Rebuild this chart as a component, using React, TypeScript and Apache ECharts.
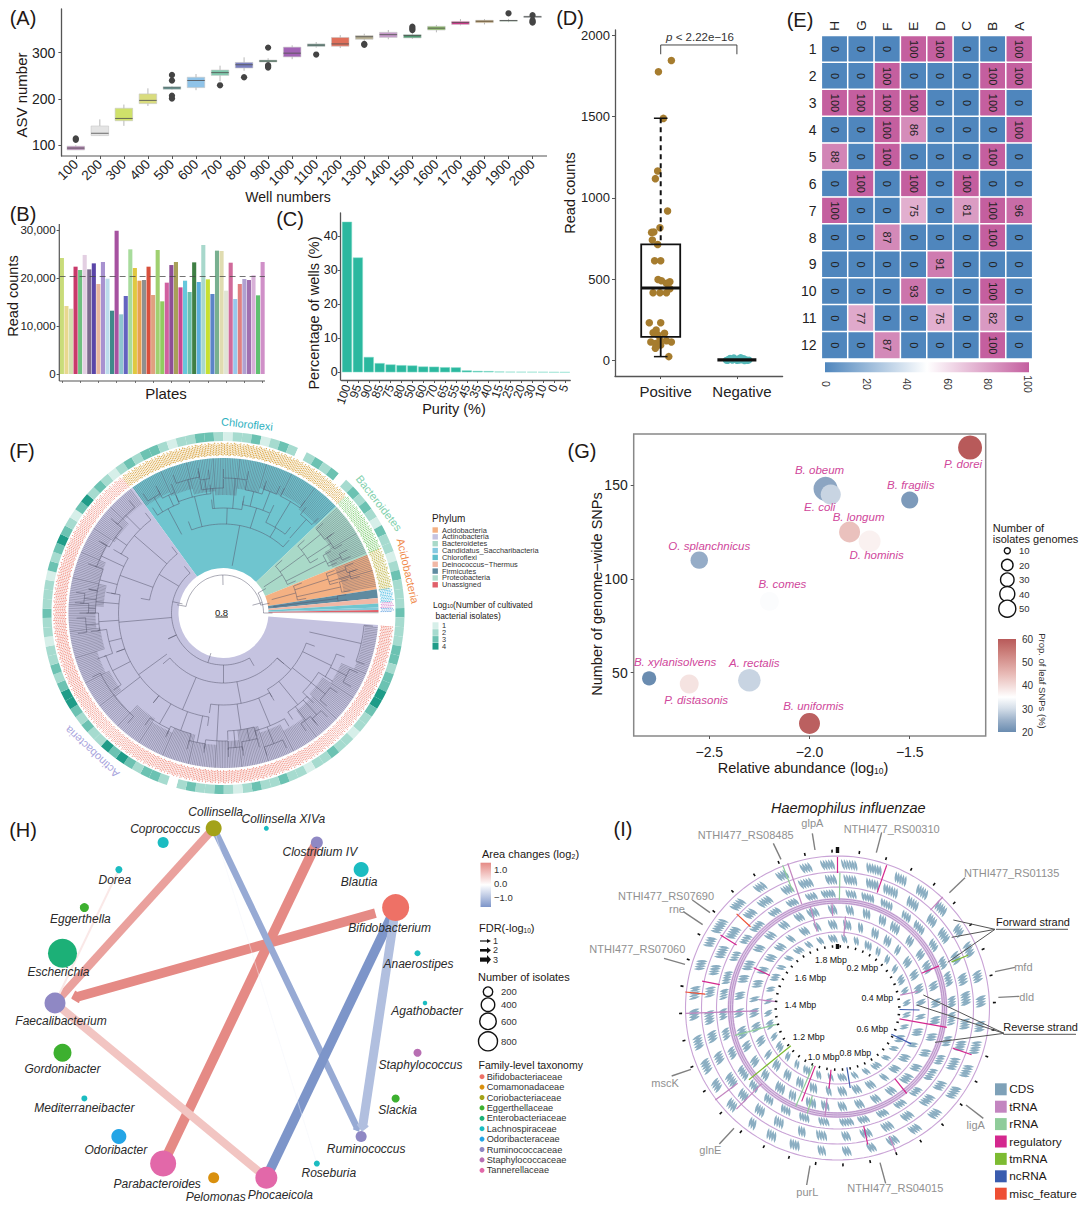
import React, { useEffect, useRef } from "react";
import * as echarts from "echarts";

const FONT = "Liberation Sans";
const INK = "#231815";

// ---------- (A)
const wellCats = ["100","200","300","400","500","600","700","800","900","1000","1100","1200","1300","1400","1500","1600","1700","1800","1900","2000"];
const wellLow = [90,121,142,185,220,219,238,261,277,286,311,310,326,329,330,344,359,361,366,373];
const wellQ1 = [90,121,153,190,221,224.6,251,267,280,291,313.6,314,329,333,332,349,361,365,368,376];
const wellMed = [94,126,158,197,224,240,257,274,282,299,316.5,319,334.5,339,337,353,365,368,369.5,377.7];
const wellQ3 = [98,141.7,180,211,226.6,247,262.6,279,284,312,319,333,337,344,339,357,367.6,370,370,379];
const wellHigh = [100,156,188,223,228,254,272,290,288,316,323,338,341,349,342,360,372.6,372.6,373,382];
const wellColors = ["#b784b7","#e4e4e4","#cfe16a","#d9dc7e","#66a7a3","#8fc3e8","#7fc8ac","#7a7fc0","#5f9f7e","#a263b5","#6a9c8e","#e06f5a","#b8b090","#c59ac9","#4e9a72","#8fc06a","#d8358e","#c59748","#5fa06a","#97a9ab"];
const wellOutliers = [[0,112],[0,115],[4,252],[4,240],[4,207],[4,201],[6,229.5],[7,247],[8,311],[8,273],[8,271],[8,268],[10,296],[12,319],[12,317],[14,356],[14,352.5],[14,349],[18,385],[19,381],[19,370],[19,367],[19,365]];

// ---------- (B)
const plateValues = [24170,14170,13600,22360,21670,24800,21800,23050,18750,23330,19860,13190,29860,12430,16250,25970,22080,19440,19580,22360,16460,25830,15140,19030,22700,23330,18050,19440,17080,23260,19170,26875,19720,16670,25700,25625,17360,23190,15625,18750,19790,19580,20550,16390,23330];
const plateColors = ["#c9dc7a","#e8d88f","#d4e0b0","#c93a6b","#6fbf80","#e3cfe2","#7d6a8f","#5a45a8","#e8b69f","#a892d0","#bcdcec","#3f8a8a","#a652a0","#8fc8cf","#6464c0","#a8dc9c","#e0c840","#e8a050","#8f8f8f","#d8503c","#e0a080","#a0d070","#90cc60","#d060a0","#8d4f96","#a8a058","#c84890","#66c8dc","#6cc0ac","#3f7f44","#5aaedc","#a8d8cc","#c8e030","#5c84c8","#78b090","#e0dcb0","#e0e4d4","#d06a9a","#98c8ec","#e08080","#b0a0d0","#a070b0","#d8b0d8","#60c070","#d090c8"];
const plateCats = plateValues.map((_, i) => String(i + 1));

// ---------- (C)
const purityCats = ["100","95","90","85","75","80","50","60","70","65","55","45","35","40","15","25","20","30","10","0","5"];
const purityValues = [44.2,33.7,4.5,2.7,2.3,2.1,2.0,1.7,1.65,1.5,1.45,0.55,0.4,0.35,0.2,0.15,0.12,0.1,0.07,0.02,0.01];

// ---------- (D)
const posJitter = [0.14,-0.03,0.035,-0.04,-0.07,0.09,-0.01,-0.12,-0.09,-0.11,-0.04,-0.08,0,-0.035,0.01,0.12,0.075,-0.1,-0.01,0.075,0.12,-0.15,0,-0.06,-0.1,-0.035,0.05,-0.13,-0.07,-0.01,0.075,0.14,-0.07,0,0.106];
const posReads = [1844,1775,1488,1165,1118,919,817,788,790,741,714,614,614,499,491,485,475,418,418,418,442,233,233,188,172,158,168,115,106,127,123,115,76,96,25];
const negJitter = [-0.14,-0.11,-0.09,-0.06,-0.04,-0.01,0.02,0.05,0.07,0.09,0.12,0.14,-0.12,0,0.03,0.1,0.16];
const negReads = [3,8,15,3,18,7,12,20,4,14,6,2,1,1,3,0,4];
const groupCats = ["Positive", "Negative"];
const groupStats = [[25,146,447,715,1489],[0,1,5,9,12]];

// ---------- (E)
const plateCols = ["H","G","F","E","D","C","B","A"];
const plateRows = ["1","2","3","4","5","6","7","8","9","10","11","12"];
const purityGrid = [
  [0,0,0,100,100,0,0,100],
  [0,0,100,0,0,0,100,100],
  [100,100,100,100,0,0,100,0],
  [0,0,100,86,0,0,0,100],
  [88,0,100,0,0,0,100,0],
  [0,100,0,100,0,100,0,0],
  [100,0,0,75,0,81,100,96],
  [0,0,87,0,0,0,100,0],
  [0,0,0,0,91,0,0,0],
  [0,0,0,93,0,0,100,0],
  [0,77,0,0,75,0,82,0],
  [0,0,87,0,0,0,100,0],
];
const heatTicks = ["0","20","40","60","80","100"];

// ---------- (F)
const phylaNames = ["Acidobacteria","Actinobacteria","Bacteroidetes","Candidatus_Saccharibacteria","Chloroflexi","Deinococcus−Thermus","Firmicutes","Proteobacteria","Unassigned"];
const phylaColors = ["#f4b183","#c5c3e0","#a9d9c8","#84c9e0","#5fbfcb","#f0b8a6","#5f8ba0","#b0dccc","#e0606a"];
const fanNames = ["Chloroflexi","Bacteroidetes","Acidobacteria","Firmicutes","Deinococcus−Thermus","Chloroflexi ii","Candidatus_Saccharibacteria","Unassigned","Proteobacteria","gap","Actinobacteria"];
const fanDegrees = [82.6,21.4,13.2,3.3,2,1.5,0.9,0.8,0.4,4.4,229.6];
const fanColors = ["#6fc5cf","#a9d9c8","#f4b183","#5f8ba0","#f0b8a6","#6fc5cf","#84c9d9","#e0606a","#bbbbbb","transparent","#c5c3e0"];
const isolateLevels = [2,2,3,3,2,3,3,4,4,3,2,2,1,2,2,3,2,2,1,2,2,3,2,2,3,2,1,2,3,2,2,3,2,0,2,3,3,2,3,4,3,4,2,2,3,2,3,4,4,3,2,3,2,2,1,2,2,3,2,2,2,1,3,2,3,4,3,2,1,3,4,2,3,2,1,2,3,2,3,3,2,1,2,2,3,3,2,1,2,2,3,1,2,3,2,0,2,3,2,3,0,2,3,2,3,2,1,3,2,2,1,2,3,2,2,2,3,2];
const levelColors = ["#ffffff","#d6efe9","#a6dbcf","#6cc2b2","#1f9c88"];
// a0, a1 (degrees), arc radius, parent radius
const treeClades = [
  [12,170,38,28],[0,30,40,30],
  [48,111,89,48],[112,124,118,89],[96,112,120,89],[80,96,105,89],[90,100,125,105],[80,90,135,105],[65,80,110,89],[52,65,100,89],[45,52,125,100],[54,64,130,100],[66,72,130,110],[72,80,125,110],[112,118,130,118],[118,124,135,118],[100,110,138,120],[96,100,135,120],
  [24,42,70,48],[30,42,100,70],[24,30,115,70],[36,42,125,100],[30,36,128,100],[24,27,130,115],
  [10,21,75,50],[15,21,110,75],[10,15,120,75],[18,21,130,110],[15,18,132,110],[6,8.5,115,50],
  [130,205,52,42],[128,170,75,52],[170,200,105,52],[205,300,52,42],[220,320,70,52],
  [128,150,118,75],[150,170,110,75],[130,140,138,118],[140,150,132,118],[150,160,135,110],[160,170,128,110],
  [170,180,128,105],[180,188,125,105],[188,200,118,105],[172,176,140,128],[176,180,135,128],[182,188,138,125],
  [200,232,105,70],[206,229,137,105],[200,215,125,105],
  [232,262,105,70],[235,245,128,105],[245,255,125,105],[255,262,132,105],
  [262,300,92,70],[262,272,128,92],[272,285,118,92],[285,300,122,92],[272,278,135,118],[278,285,130,118],[287,295,140,122],
  [300,340,88,70],[303,315,118,88],[315,328,112,88],[328,340,120,88],[305,310,135,118],[310,315,138,118],[318,325,130,112],[330,336,138,120],
  [340,355,141,88],
];
// a0, a1, radius where the tips begin
const treeTips = [[44,54,128],[54,64,132],[64,74,130],[74,84,125],[84,94,118],[94,104,122],[104,114,128],[114,126,132],[23,31,118],[31,43,125],[10,16,122],[16,22,120],[127,137,136],[137,147,130],[147,157,134],[157,167,128],[167,177,120],[177,187,128],[187,197,124],[197,207,132],[207,217,128],[217,227,136],[227,237,126],[237,247,130],[247,257,125],[257,267,132],[267,277,128],[277,287,118],[287,297,125],[297,307,132],[307,317,122],[317,327,118],[327,337,128],[337,355,142]];
// a0, a1, colour of the tip label band
const tipBands = [[127,355.6,"#f29a8e"],[44,127,"#dba94a"],[22.6,44,"#86d07a"],[8.5,22.6,"#c9c060"],[4,8.5,"#6cc8e8"],[2,4,"#e0a0d8"],[0.5,2,"#88b8e8"]];
const speckle = [0,1.1,0.5,1.6,0.3,0.9,1.3,0.7];

// ---------- (G)
const speciesNames = ["P. dorei","B. obeum","E. coli","B. fragilis","B. longum","D. hominis","O. splanchnicus","B. comes","B. xylanisolvens","P. distasonis","A. rectalis","B. uniformis"];
const speciesAbund = [-1.199,-1.92,-1.894,-1.5,-1.8,-1.7,-2.55,-2.2,-2.8,-2.6,-2.3,-2];
const speciesSnps = [170,148,145,142,125,120,110,88,47,44,46,23];
const speciesLeaf = [60,23.5,29,22,44,37,24.5,34.5,20,39,29,59];
const speciesIsolates = [70,70,57,47,60,63,48,53,37,53,65,60];
const speciesLabelShift = [[-7,16],[-6,-19],[-11,13],[1,-15],[9,-15],[7,14],[10,-14],[13,-17],[26,-16],[7,16],[5,-17],[4,-17]];
const leafStops = ["#6a8cb0","#9ab0c9","#d3dde8","#ffffff","#f3dcda","#e8bab6","#d99a96","#c97a76","#b85a5a"];

// ---------- (H)
const genera = ["Collinsella XIVa","Clostridium IV","Blautia","Bifidobacterium","Anaerostipes","Agathobacter","Staphylococcus","Slackia","Ruminococcus","Roseburia","Phocaeicola","Pelomonas","Parabacteroides","Odoribacter","Mediterraneibacter","Gordonibacter","Faecalibacterium","Escherichia","Eggerthella","Dorea","Coprococcus","Collinsella"];
const generaIsolates = [51,294,459,1488,73,41,131,131,247,73,988,247,1380,459,73,661,900,1716,165,100,247,522];
const families = ["Bifidobacteriaceae","Comamonadaceae","Coriobacteriaceae","Eggerthellaceae","Enterobacteriaceae","Lachnospiraceae","Odoribacteraceae","Ruminococcaceae","Staphylococcaceae","Tannerellaceae"];
const familyColors = ["#ee7166","#d9900e","#a3a219","#3db02f","#1cb077","#1bbcc1","#24a5e6","#8f88c4","#b86fb3","#e268a9"];
const generaFamily = [5,7,5,0,5,5,8,3,7,5,9,1,9,6,5,3,7,4,3,5,5,2];
const generaLabelShift = [[17,-9],[3,10],[-2,12],[-6,20],[1,11],[2,8],[3,12],[2,12],[5,13],[12,9],[14,17],[2,19],[-6,20],[-3,14],[0,10],[0,16],[6,18],[-4,19],[-4,11],[-4,10],[2,-13],[2,-16]];
// from, to, log2 area change, FDR, trim at source, trim at target
const edgeList = [
  [3,16,1.0,3.2,21,18],[1,12,1.0,3.3,0,0],[21,16,0.8,2.7,0,0],[16,10,0.5,2.7,0,0],
  [21,8,-0.8,2.2,0,6],[3,10,-1.0,3.2,0,0],[3,8,-0.6,3.0,0,6],[19,16,0.2,0.7,0,0],[9,21,-0.1,0.15,0,0],
];

// ---------- (I)
const ringRadii = [152,136,121,105,107,109,91,76];
const geneBands = [[138,149],[123,134],[110,119],[93,104],[78,89],[65,74]];
const geneCounts = [
  [3,3,4,3,4,4,4,5,5,4,3,3,3,4,5,3,3,4,3,4,4,3,3,2,3,3,2,2,2,3,3,3,4,4,4,3],
  [4,3,3,4,3,4,5,4,4,3,4,3,4,3,4,4,3,3,4,3,3,4,3,3,3,2,3,2,3,3,3,4,3,4,3,3],
  [3,4,3,3,4,3,4,4,3,4,3,3,3,4,3,3,4,3,3,3,3,4,3,3,3,3,3,4,3,3,3,3,4,3,3,4],
  [3,3,4,3,3,4,3,3,3,3,4,3,3,3,3,4,3,3,3,4,3,3,3,4,3,4,3,3,3,3,3,4,3,3,3,3],
  [2,3,3,3,2,3,3,2,3,3,2,3,2,3,3,3,3,2,3,3,3,2,3,3,3,3,2,3,3,3,2,3,3,2,3,2],
  [2,2,3,2,2,2,3,2,2,3,2,2,3,2,2,3,2,2,2,3,2,3,2,2,3,2,2,3,2,2,3,2,2,3,2,2],
];
const featureTypes = ["CDS","tRNA","rRNA","regulatory","tmRNA","ncRNA","misc_feature"];
const featureColors = ["#7ea1b8","#c385c0","#8fcc9a","#d4288e","#7dbb32","#3a5cae","#ee4f34"];
// angle, outer radius, inner radius, type index
const features = [
  [90,151,135,3],[89,135,108,2],[71,151,122,3],[111,153,125,2],[109,153,110,1],[105,105,79,1],[85,92,72,1],[93,105,92,1],
  [22,141,123,4],[46.5,153,135,1],[22.5,110,91,3],[11.6,82,64,1],[-1.4,82,62,5],[-10,111,63,3],[-26,82,60,5],[-19.2,142,122,3],
  [-51,110,91,3],[-81,81,60,5],[-96,81,62,3],[-96.6,109,91,1],[-77.5,140,121,3],[-68,155,138,1],[-113,107,62,2],[-106,110,91,2],
  [-111,100,62,3],[-135,143,107,1],[-143,153,125,1],[-141,114,60,4],[-165,106,63,2],[-178,152,80,1],[168.8,138,120,3],[174,153,133,6],
  [137,138,119,6],[148,138,119,3],[154.3,93,75,3],[174,79,61,1],
];
const mbpLabels = ["1.8 Mbp","0.2 Mbp","1.6 Mbp","0.4 Mbp","1.4 Mbp","0.6 Mbp","1.2 Mbp","0.8 Mbp","1.0 Mbp"];

// ---------- helpers
const txt = (x: number, y: number, text: string, o: any = {}) => ({
  type: "text", x, y, z: 100, silent: true, rotation: ((o.rot || 0) * Math.PI) / 180,
  style: {
    text, fill: o.color || INK, fontSize: o.size || 12, fontFamily: FONT, fontStyle: o.italic ? "italic" : "normal",
    fontWeight: o.bold ? "bold" : "normal", align: o.align || "center", verticalAlign: "middle", rich: o.rich,
  },
});
const ln = (x1: number, y1: number, x2: number, y2: number, color = "#555", w = 1.2) => ({
  type: "line", z: 90, silent: true, shape: { x1, y1, x2, y2 }, style: { stroke: color, lineWidth: w },
});
const box = (x: number, y: number, w: number, h: number, fill: any, stroke?: string) => ({
  type: "rect", z: 95, silent: true, shape: { x, y, width: w, height: h }, style: { fill, stroke },
});
const dot = (x: number, y: number, d: number, fill: string, stroke?: string, lw = 1) => ({
  type: "circle", z: 95, silent: true, shape: { cx: x, cy: y, r: d / 2 }, style: { fill, stroke, lineWidth: lw },
});
const pz = (x: number, y: number) => [580 + x / 3, 790 + y / 3];
const leader = (a: number, b: number, c: number, d: number, color = "#808080", w = 1.4) => {
  const p = pz(a, b), q = pz(c, d);
  return ln(p[0], p[1], q[0], q[1], color, w);
};
const norm = (a: number) => ((a % 360) + 360) % 360;
const pc = (api: any, r: number, a: number) => api.coord([r, norm(a)]);
const radial = (api: any, a: number, r0: number, r1: number) => {
  const p = pc(api, r0, a), q = pc(api, r1, a);
  return `M${p[0].toFixed(1)} ${p[1].toFixed(1)}L${q[0].toFixed(1)} ${q[1].toFixed(1)}`;
};
const arc = (api: any, r: number, a0: number, a1: number) => {
  let s = "";
  const n = Math.max(1, Math.ceil((a1 - a0) / 2));
  for (let i = 0; i <= n; i++) {
    const p = pc(api, r, a0 + ((a1 - a0) * i) / n);
    s += `${i ? "L" : "M"}${p[0].toFixed(1)} ${p[1].toFixed(1)}`;
  }
  return s;
};
const polarPaths = (polarIndex: number, items: any[], z = 3) => ({
  type: "custom", coordinateSystem: "polar", polarIndex, silent: true, z,
  data: items.map(() => [1, 1]),
  renderItem: (p: any, api: any) => {
    const it = items[p.dataIndex];
    return { type: "path", shape: { pathData: it.d(api) }, style: { fill: it.fill || "none", stroke: it.stroke, lineWidth: it.width, lineDash: it.dash, opacity: it.opacity } };
  },
});
const hiddenPolar = (polarIndex: number, R: number) => ({
  radius: { polarIndex, show: false, min: 0, max: R, axisLine: { show: false }, axisTick: { show: false }, axisLabel: { show: false }, splitLine: { show: false } },
  angle: { polarIndex, show: false, min: 0, max: 360, startAngle: 0, clockwise: false, axisLine: { show: false }, axisTick: { show: false }, axisLabel: { show: false }, splitLine: { show: false } },
});
const lerpHex = (a: string, b: string, t: number) => {
  const c = (s: string, i: number) => parseInt(s.slice(1 + i * 2, 3 + i * 2), 16);
  const v = [0, 1, 2].map((i) => Math.round(c(a, i) + (c(b, i) - c(a, i)) * t).toString(16).padStart(2, "0"));
  return "#" + v.join("");
};
const changeColor = (v: number) => (v >= 0 ? lerpHex("#ffffff", "#e58a85", Math.min(1, v)) : lerpHex("#ffffff", "#7d95c9", Math.min(1, -v)));
const nodeXY = (i: number) => {
  const t = ((i + 0.5) * 2 * Math.PI) / genera.length;
  return [Math.sin(t), Math.cos(t)];
};

const axisLine = { show: true, onZero: false, lineStyle: { color: "#555", width: 1.3 } };
const noLine = { show: false, onZero: false };
const tickStyle = { show: true, length: 3, lineStyle: { color: "#555", width: 1 } };

function buildOption() {
  const series: any[] = [];
  const visualMap: any[] = [];

  // (A)
  series.push({
    type: "custom", xAxisIndex: 0, yAxisIndex: 0, silent: true,
    data: wellCats.map((_, i) => [i, wellMed[i]]),
    renderItem: (p: any, api: any) => {
      const i = p.dataIndex;
      const x = api.coord([i, 0])[0];
      const w = api.size([1, 0])[0] * 0.73;
      const y = (v: number) => api.coord([i, v])[1];
      return {
        type: "group",
        children: [
          { type: "line", shape: { x1: x, y1: y(wellHigh[i]), x2: x, y2: y(wellLow[i]) }, style: { stroke: "#b8b8b8", lineWidth: 1 } },
          { type: "rect", shape: { x: x - w / 2, y: y(wellQ3[i]), width: w, height: y(wellQ1[i]) - y(wellQ3[i]) }, style: { fill: wellColors[i], stroke: "#c8c8c8", lineWidth: 0.6 } },
          { type: "line", shape: { x1: x - w / 2, y1: y(wellMed[i]), x2: x + w / 2, y2: y(wellMed[i]) }, style: { stroke: "#555", lineWidth: 1, opacity: 0.85 } },
        ],
      };
    },
  });
  series.push({ type: "scatter", xAxisIndex: 0, yAxisIndex: 0, silent: true, symbolSize: 6.3, itemStyle: { color: "#444", opacity: 1 }, data: wellOutliers });

  // (B)
  series.push({
    type: "bar", xAxisIndex: 1, yAxisIndex: 1, silent: true, barWidth: "90%",
    data: plateValues.map((v, i) => ({ value: v, itemStyle: { color: plateColors[i] } })),
    markLine: { silent: true, symbol: "none", label: { show: false }, lineStyle: { color: "#444", type: [6, 4], width: 1, opacity: 0.75 }, data: [{ yAxis: 20350 }] },
  });

  // (C)
  series.push({
    type: "bar", xAxisIndex: 2, yAxisIndex: 2, silent: true, barWidth: "92%",
    itemStyle: { color: "#2bb89f", borderColor: "#86dccb", borderWidth: 0.5 }, data: purityValues,
  });

  // (D)
  series.push({ type: "scatter", xAxisIndex: 3, yAxisIndex: 3, silent: true, symbolSize: 7.5, itemStyle: { color: "#a67c2e", opacity: 1 }, data: posJitter.map((j, i) => [j, posReads[i]]) });
  series.push({ type: "scatter", xAxisIndex: 3, yAxisIndex: 3, silent: true, symbolSize: 7, itemStyle: { color: "#55b8b8", opacity: 1 }, data: negJitter.map((j, i) => [1 + j, negReads[i]]) });
  series.push({
    type: "custom", xAxisIndex: 3, yAxisIndex: 3, silent: true, z: 5,
    data: groupStats.map((s, i) => [i, s[2]]),
    renderItem: (p: any, api: any) => {
      const i = p.dataIndex;
      const s = groupStats[i];
      const x = api.coord([i, 0])[0];
      const w = 39;
      const y = (v: number) => api.coord([i, v])[1];
      const stroke = { stroke: "#111", lineWidth: 1.8, fill: "none" };
      const cap = 6.8;
      if (i === 1) return { type: "line", shape: { x1: x - w / 2, y1: y(s[2]), x2: x + w / 2, y2: y(s[2]) }, style: { stroke: "#111", lineWidth: 3.2 } };
      return {
        type: "group",
        children: [
          { type: "rect", shape: { x: x - w / 2, y: y(s[3]), width: w, height: y(s[1]) - y(s[3]) }, style: stroke },
          { type: "line", shape: { x1: x - w / 2, y1: y(s[2]), x2: x + w / 2, y2: y(s[2]) }, style: { stroke: "#111", lineWidth: 3 } },
          { type: "line", shape: { x1: x, y1: y(s[4]), x2: x, y2: y(s[3]) }, style: { stroke: "#111", lineWidth: 2, lineDash: [5, 4] } },
          { type: "line", shape: { x1: x, y1: y(s[1]), x2: x, y2: y(s[0]) }, style: { stroke: "#111", lineWidth: 1.8 } },
          { type: "line", shape: { x1: x - cap, y1: y(s[4]), x2: x + cap, y2: y(s[4]) }, style: { stroke: "#111", lineWidth: 1.5 } },
          { type: "line", shape: { x1: x - cap, y1: y(s[0]), x2: x + cap, y2: y(s[0]) }, style: { stroke: "#111", lineWidth: 1.5 } },
        ],
      };
    },
  });
  series.push({ type: "line", xAxisIndex: 3, yAxisIndex: 3, silent: true, symbol: "none", lineStyle: { color: "#444", width: 1 }, data: [[0, 1882], [0, 1939], [1, 1939], [1, 1882]] });

  // (E)
  const heatIdx = series.length;
  const heatData: number[][] = [];
  purityGrid.forEach((row, r) => row.forEach((v, c) => heatData.push([c, r, v])));
  series.push({
    type: "heatmap", xAxisIndex: 4, yAxisIndex: 4, silent: true, data: heatData,
    itemStyle: { borderColor: "#fff", borderWidth: 1.5 },
    label: { show: true, rotate: -90, fontSize: 11, color: "#222", formatter: (p: any) => String(p.value[2]) },
  });
  visualMap.push({ type: "continuous", show: false, seriesIndex: heatIdx, dimension: 2, min: 0, max: 100, inRange: { color: ["#4f86bd", "#ffffff", "#c45f9f"] } });

  // (G)
  const bubbleIdx = series.length;
  series.push({
    type: "scatter", xAxisIndex: 5, yAxisIndex: 5, silent: true, clip: false,
    data: speciesNames.map((n, i) => ({
      name: n,
      value: [speciesAbund[i], speciesSnps[i], speciesLeaf[i], speciesIsolates[i]],
      label: { offset: speciesLabelShift[i] },
    })),
    symbolSize: (v: number[]) => 3 + v[3] * 0.3,
    label: { show: true, position: "inside", formatter: (p: any) => p.name, fontSize: 11.5, fontStyle: "italic", color: "#d0479b" },
    itemStyle: { opacity: 1 },
  });
  visualMap.push({ type: "continuous", show: false, seriesIndex: bubbleIdx, dimension: 2, min: 20, max: 60, inRange: { color: leafStops } });

  // (H)
  series.push({
    type: "custom", xAxisIndex: 6, yAxisIndex: 6, silent: true, z: 2,
    data: edgeList.map((e) => [e[2], e[3]]),
    renderItem: (p: any, api: any) => {
      const e = edgeList[p.dataIndex];
      const a = api.coord(nodeXY(e[0]));
      const b = api.coord(nodeXY(e[1]));
      const dx = b[0] - a[0], dy = b[1] - a[1];
      const len = Math.hypot(dx, dy);
      const ux = dx / len, uy = dy / len;
      const lw = e[3] * 3;
      const s = [a[0] + ux * e[4], a[1] + uy * e[4]];
      const t = [b[0] - ux * e[5], b[1] - uy * e[5]];
      const color = changeColor(e[2]);
      const head = Math.min(lw * 0.6, 5);
      const base = [t[0] - ux * head, t[1] - uy * head];
      const nx = -uy * lw * 0.55, ny = ux * lw * 0.55;
      return {
        type: "group",
        children: [
          { type: "line", shape: { x1: s[0], y1: s[1], x2: base[0], y2: base[1] }, style: { stroke: color, lineWidth: lw } },
          { type: "polygon", shape: { points: [[base[0] + nx, base[1] + ny], t, [base[0] - nx, base[1] - ny]] }, style: { fill: color, stroke: color, lineWidth: Math.min(lw * 0.2, 2), lineJoin: "round" } },
        ],
      };
    },
  });
  series.push({
    type: "scatter", xAxisIndex: 6, yAxisIndex: 6, silent: true, clip: false, z: 4,
    data: genera.map((n, i) => ({
      name: n, value: [...nodeXY(i), generaIsolates[i]],
      itemStyle: { color: familyColors[generaFamily[i]], opacity: 1 },
      label: { offset: generaLabelShift[i] },
    })),
    symbolSize: (v: number[]) => 0.7 * Math.sqrt(v[2]),
    label: { show: true, position: "inside", formatter: (p: any) => p.name, fontSize: 12, fontStyle: "italic", color: "#2a2a2a" },
  });

  // (F)
  series.push({
    type: "pie", center: [223.5, 613], radius: [45, 155], startAngle: 126, clockwise: true, silent: true, z: 1,
    label: { show: false }, labelLine: { show: false }, avoidLabelOverlap: false,
    data: fanNames.map((n, i) => ({ name: n, value: fanDegrees[i], itemStyle: { color: fanColors[i] } })),
  });
  series.push({
    type: "pie", center: [223.5, 613], radius: [172, 181], startAngle: 355.5, clockwise: true, silent: true, z: 1,
    label: { show: false }, labelLine: { show: false }, avoidLabelOverlap: false,
    data: isolateLevels.map((l, i) => ({ name: "c" + i, value: 3, itemStyle: { color: levelColors[l] } })),
  });
  series.push(
    polarPaths(0, [
      {
        d: (api: any) => treeTips.map((t) => {
          let s = "";
          for (let a = t[0]; a < t[1]; a += 0.65) s += radial(api, a, t[2], 155);
          return s;
        }).join(""),
        stroke: "#5a5a70", width: 0.4,
      },
      {
        d: (api: any) => treeClades.map((c) => arc(api, c[2], c[0], c[1]) + radial(api, (c[0] + c[1]) / 2, c[3], c[2]) + radial(api, c[0], c[2], c[2] + 9) + radial(api, c[1], c[2], c[2] + 9)).join(""),
        stroke: "#55556a", width: 0.5,
      },
      ...tipBands.map((b: any) => ({
        d: (api: any) => {
          let s = "";
          let i = 0;
          for (let a = b[0]; a < b[1]; a += 0.55, i++) s += radial(api, a, 157 + speckle[i % 8], 171 - speckle[(i + 3) % 8] * 1.6);
          return s;
        },
        stroke: b[2], width: 1, dash: [1.6, 0.6],
      })),
    ])
  );

  // (I)
  series.push(
    polarPaths(1, [
      { d: (api: any) => arc(api, 107, 0, 360), stroke: "#d4b5de", width: 6, opacity: 0.7 },
      ...ringRadii.map((r, i) => ({
        d: (api: any) => arc(api, r, 0, 360),
        stroke: i >= 3 && i <= 5 ? "#b892c8" : "#c9a3d6", width: i >= 3 && i <= 5 ? 1 : 1.1,
      })),
      ...geneBands.map((band, bi) => ({
        d: (api: any) => {
          let s = "";
          const rm = (band[0] + band[1]) / 2;
          const deg = 57.3 / rm;
          geneCounts[bi].forEach((n, sector) => {
            const marks = bi < 3 ? n + 1 : n;
            const step = Math.min(2.6 * deg, 7.5 / marks);
            // each sector holds one cluster, placed by its mark count so gaps differ along the ring
            const start = sector * 10 + 0.5 + (n % 3) * 0.8;
            for (let k = 0; k < marks; k++) {
              const a = start + (k + 0.5) * step;
              const w = 2.8 * deg;
              const tilt = 1.8 * deg;
              const p0 = pc(api, band[0], a - tilt);
              const p1 = pc(api, rm, a + w);
              const p2 = pc(api, band[1], a + tilt);
              const p3 = pc(api, rm, a - w);
              s += `M${p0[0].toFixed(1)} ${p0[1].toFixed(1)}Q${p1[0].toFixed(1)} ${p1[1].toFixed(1)} ${p2[0].toFixed(1)} ${p2[1].toFixed(1)}Q${p3[0].toFixed(1)} ${p3[1].toFixed(1)} ${p0[0].toFixed(1)} ${p0[1].toFixed(1)}Z`;
            }
          });
          return s;
        },
        fill: "#7ea5bb", stroke: "none", width: 0, opacity: 0.9,
      })),
      ...features.map((f) => ({
        d: (api: any) => radial(api, f[0], f[1], f[2]),
        stroke: featureColors[f[3]], width: 1.2,
      })),
      {
        d: (api: any) => {
          let s = "";
          for (let a = 0; a < 360; a += 10) s += radial(api, a + 2, 155.5, 158.5);
          return s;
        },
        stroke: "#111", width: 1.6,
      },
      {
        d: (api: any) => {
          let s = "";
          for (let a = 0; a < 360; a += 7.2) s += radial(api, a + 1, 60.5, 63);
          return s;
        },
        stroke: "#111", width: 1.5,
      },
      { d: (api: any) => radial(api, 90, 155, 161) + radial(api, 90, 59, 64), stroke: "#111", width: 3.4 },
    ])
  );

  // graphics
  const g: any[] = [];
  const panels: any[] = [["(A)",23,18],["(B)",23,214],["(C)",290,219],["(D)",570,18],["(E)",800,20],["(F)",22,451],["(G)",582,451],["(H)",23,830],["(I)",623,829]];
  panels.forEach((p) => g.push(txt(p[1], p[2], p[0], { size: 20 })));

  g.push(ln(61.4, 156, 547, 156));
  g.push(txt(21, 95, "ASV number", { size: 15, rot: 90 }), txt(288, 197, "Well numbers", { size: 14 }));
  g.push(txt(13, 296, "Read counts", { size: 14.5, rot: 90 }), txt(166, 393, "Plates", { size: 15 }));
  g.push(ln(59.3, 224, 59.3, 381), ln(59.3, 381, 265, 381));
  g.push(txt(314, 313, "Percentage of wells (%)", { size: 14.5, rot: 90 }), txt(454, 409, "Purity (%)", { size: 14.5 }));
  g.push(txt(570, 193, "Read counts", { size: 14.5, rot: 90 }));
  g.push(txt(700, 36.7, "{i|p} {t|< 2.22e−16}", {
    size: 11.5, color: "#333",
    rich: { i: { fontStyle: "italic", fontSize: 11.5, fontFamily: FONT, fill: "#333", color: "#333" }, t: { fontSize: 11.5, fontFamily: FONT, color: "#333" } },
  }));

  // E colourbar
  g.push(box(825, 362.3, 204, 10, new echarts.graphic.LinearGradient(0, 0, 1, 0, [{ offset: 0, color: "#4f86bd" }, { offset: 0.5, color: "#ffffff" }, { offset: 1, color: "#c45f9f" }])));
  heatTicks.forEach((t, i) => {
    const x = 826.4 + i * 40.4;
    g.push(ln(x, 362.3, x, 364.5, "#fff", 1), ln(x, 370, x, 372.3, "#fff", 1));
    g.push(txt(x, 384, t, { size: 10.5, rot: -90, color: "#333" }));
  });

  // F text
  g.push(txt(247, 424, "Chloroflexi", { size: 11, color: "#2fb1c0", rot: -6 }));
  g.push(txt(379, 503, "Bacteroidetes", { size: 11, color: "#7fd0ac", rot: -52 }));
  g.push(txt(408, 571, "Acidobacteria", { size: 11, color: "#f08a4b", rot: -77 }));
  g.push(txt(92, 752, "Actinobacteria", { size: 11, color: "#a8a4dc", rot: -223 }));
  g.push(txt(221.5, 612, "0.8", { size: 9.5 }), ln(215.5, 617, 228, 617, "#333", 1));
  g.push(txt(432, 518, "Phylum", { size: 10, align: "left" }));
  phylaNames.forEach((n, i) => {
    const y = 530 + i * 6.85;
    g.push(box(432.5, y - 2.7, 5.4, 5.4, phylaColors[i]), txt(442, y, n, { size: 7.4, align: "left", color: "#333" }));
  });
  g.push(txt(433, 605, "{a|Log}{s|10}{a|(Number of cultivated}", {
    align: "left",
    rich: { a: { fontSize: 8.4, fontFamily: FONT, color: INK }, s: { fontSize: 5.5, fontFamily: FONT, color: INK, verticalAlign: "bottom" } },
  }));
  g.push(txt(435.5, 616, "bacterial isolates)", { size: 8.4, align: "left" }));
  ["1", "2", "3", "4"].forEach((l, i) => {
    const y = 625.5 + i * 6.9;
    g.push(box(432.5, y - 3.2, 6, 6.6, levelColors[i + 1]), txt(442, y, l, { size: 7.4, align: "left", color: "#333" }));
  });

  // G legends
  g.push(txt(803, 767.7, "{a|Relative abundance (log}{s|10}{a|)}", {
    rich: { a: { fontSize: 14.5, fontFamily: FONT, color: INK }, s: { fontSize: 8.5, fontFamily: FONT, color: INK, verticalAlign: "bottom" } },
  }));
  g.push(txt(596.7, 594, "Number of genome−wide SNPs", { size: 14.5, rot: 90 }));
  g.push(txt(992.7, 527.7, "Number of", { size: 11, align: "left" }), txt(992.7, 539, "isolates genomes", { size: 11, align: "left" }));
  [[10,550.7,6],[20,565,11.5],[30,579.7,13.5],[40,594,15],[50,608.7,17]].forEach((l) => {
    g.push(dot(1007.3, l[1], l[2], "#fff", "#111", 1.4), txt(1019, l[1], String(l[0]), { size: 9.5, align: "left", color: "#333" }));
  });
  g.push(box(998, 639, 18, 93, new echarts.graphic.LinearGradient(0, 1, 0, 0, leafStops.map((c, i) => ({ offset: i / 8, color: c })))));
  [60, 50, 40, 30, 20].forEach((v, i) => {
    const y = 639.7 + i * 23.1;
    g.push(ln(998, y, 1001, y, "#fff", 0.8), ln(1013, y, 1016, y, "#fff", 0.8));
    g.push(txt(1022, y, String(v), { size: 10, align: "left", color: "#333" }));
  });
  g.push(txt(1042, 681, "Prop. of leaf SNPs (%)", { size: 9.5, rot: -90, color: "#333" }));

  // H legends
  g.push(txt(482, 853.7, "Area changes (log₂)", { size: 11, align: "left" }));
  g.push(box(480.5, 862.7, 10.5, 44.3, new echarts.graphic.LinearGradient(0, 0, 0, 1, [{ offset: 0, color: "#e58a85" }, { offset: 0.5, color: "#ffffff" }, { offset: 1, color: "#7d95c9" }])));
  [["1.0",869.5],["0.0",883.5],["−1.0",897.7]].forEach((l: any) => g.push(txt(494, l[1], l[0], { size: 9.5, align: "left", color: "#333" })));
  g.push(txt(479, 928, "{a|FDR(-log}{s|10}{a|)}", {
    align: "left",
    rich: { a: { fontSize: 11, fontFamily: FONT, color: INK }, s: { fontSize: 6.5, fontFamily: FONT, color: INK, verticalAlign: "bottom" } },
  }));
  [[1,941,1.2],[2,950.3,2.6],[3,959.6,4.2]].forEach((l) => {
    g.push(ln(480, l[1], 487, l[1], "#111", l[2]));
    g.push({ type: "polygon", z: 95, silent: true, shape: { points: [[487, l[1] - l[2] * 0.9 - 0.8], [491, l[1]], [487, l[1] + l[2] * 0.9 + 0.8]] }, style: { fill: "#111" } });
    g.push(txt(493, l[1], String(l[0]), { size: 9, align: "left", color: "#333" }));
  });
  g.push(txt(478, 977, "Number of isolates", { size: 11, align: "left" }));
  [[200,991.7,9.5],[400,1004.7,13.5],[600,1021.3,16.5],[800,1041.3,19]].forEach((l) => {
    g.push(dot(488, l[1], l[2], "#fff", "#111", 1.4), txt(501, l[1], String(l[0]), { size: 9.5, align: "left", color: "#333" }));
  });
  g.push(txt(478.5, 1065, "Family-level taxonomy", { size: 10.5, align: "left" }));
  families.forEach((n, i) => {
    const y = 1076.7 + i * 10.4;
    g.push(dot(482, y, 5, familyColors[i]), txt(486.7, y, n, { size: 9.2, align: "left", color: "#333" }));
  });

  // I
  g.push(txt(848.3, 808.3, "Haemophilus influenzae", { size: 14.5, italic: true }));
  const mbpSpots = [[831,960.3],[862.3,968],[810.3,977.7],[877.3,998],[800.3,1005],[872.3,1029.3],[808.7,1037],[855.3,1052.7],[823.7,1056.7]];
  mbpLabels.forEach((t, i) => g.push(txt(mbpSpots[i][0], mbpSpots[i][1], t, { size: 8.8, color: "#111" })));
  const geneTags: any[] = [
    ["glpA",697,100,697,130,705,180],["NTHI477_RS08485",497,135,580,160,603,208],["NTHI477_RS00310",935,118,905,127,889,188],
    ["NTHI477_RS01135",1295,248,1155,263,1108,308],["NTHI477_RS07690",258,318,337,330,390,368],["rne",291,358,310,365,368,404],
    ["NTHI477_RS07060",172,476,252,505,315,523],["mfd",1330,532,1305,532,1245,545],["dld",1340,620,1318,619,1255,622],
    ["ligA",1187,1006,1210,985,1158,945],["mscK",255,878,275,858,333,838],["glnE",391,1080,418,1062,462,1015],
    ["purL",682,1206,680,1185,690,1127],["NTHI477_RS04015",946,1194,917,1180,900,1118],
  ];
  geneTags.forEach((t) => {
    const p = pz(t[1], t[2]);
    g.push(txt(p[0], p[1], t[0], { size: 11, color: "#909090" }), leader(t[3], t[4], t[5], t[6]));
  });
  g.push(txt(996, 922.3, "Forward strand", { size: 11, align: "left" }), ln(996, 929.3, 1068, 929.3, "#555", 1));
  [[1120,390],[1115,442],[1103,517]].forEach((e) => g.push(leader(1245, 418, e[0], e[1], "#555", 1)));
  g.push(txt(1003.3, 1026.7, "Reverse strand", { size: 11, align: "left" }), ln(1003.3, 1034.3, 1076, 1034.3, "#555", 1));
  [[1030,615],[1010,645],[1065,757]].forEach((e) => g.push(leader(1272, 730, e[0], e[1], "#555", 1)));
  featureTypes.forEach((n, i) => {
    const y = 1089.3 + i * 17.4;
    g.push(box(995, y - 6, 11.7, 12, featureColors[i]), txt(1009.3, y, n, { size: 11.8, align: "left" }));
  });

  const plainCat = (gridIndex: number, data: string[], extra: any = {}) => ({ type: "category", gridIndex, data, ...extra });
  const F = hiddenPolar(0, 181);
  const I = hiddenPolar(1, 161);

  return {
    animation: false,
    textStyle: { fontFamily: FONT, color: "#222" },
    graphic: { elements: g },
    visualMap,
    grid: [
      { left: 63.78, top: 9, width: 480.8, height: 147 },
      { left: 59.6, top: 224, width: 205.3, height: 157 },
      { left: 341.55, top: 213, width: 228.7, height: 167 },
      { left: 615, top: 30, width: 167.6, height: 346 },
      { left: 821.6, top: 35.7, width: 210.8, height: 323 },
      { left: 633.7, top: 434, width: 352, height: 302, show: true, borderColor: "#888", borderWidth: 1.5, backgroundColor: "transparent" },
      { left: 55, top: 826.5, width: 370, height: 353 },
    ],
    polar: [
      { center: [223.5, 613], radius: 181 },
      { center: [837.5, 1008], radius: 161 },
    ],
    radiusAxis: [F.radius, I.radius],
    angleAxis: [F.angle, I.angle],
    xAxis: [
      plainCat(0, wellCats, { axisLine: noLine, axisTick: { ...tickStyle, alignWithLabel: true }, axisLabel: { rotate: 45, interval: 0, fontSize: 13.5, color: "#222", margin: 6 } }),
      plainCat(1, plateCats, { axisLine: noLine, axisTick: { show: true, length: 2, alignWithLabel: true, lineStyle: { color: "#555", width: 0.8 } }, axisLabel: { show: false } }),
      plainCat(2, purityCats, { axisLine, axisTick: { ...tickStyle, alignWithLabel: true }, axisLabel: { rotate: 70, interval: 0, fontSize: 12, color: "#222", margin: 5 } }),
      {
        type: "value", gridIndex: 3, min: -0.6, max: 1.6, splitLine: { show: false }, axisLine,
        axisTick: { ...tickStyle, customValues: [0, 1] },
        axisLabel: { customValues: [0, 1], formatter: (v: number) => groupCats[v], fontSize: 15, color: "#222", margin: 8, padding: [0, 0, 0, 10] },
      },
      plainCat(4, plateCols, { position: "top", axisLine: noLine, axisTick: { show: false }, axisLabel: { rotate: -90, fontSize: 13.5, color: "#222", margin: 5 } }),
      {
        type: "value", gridIndex: 5, min: -2.877, max: -1.121, splitLine: { show: false }, axisLine: noLine,
        axisTick: { ...tickStyle, customValues: [-2.5, -2, -1.5] },
        axisLabel: { customValues: [-2.5, -2, -1.5], formatter: (v: number) => v.toFixed(1).replace("-", "−"), fontSize: 14, color: "#222", margin: 9 },
      },
      { type: "value", gridIndex: 6, min: -1, max: 1, show: false },
    ],
    yAxis: [
      {
        type: "value", gridIndex: 0, min: 76.9, max: 394.4, offset: 2.4, splitLine: { show: false }, axisLine,
        axisTick: { ...tickStyle, customValues: [100, 200, 300] }, axisLabel: { customValues: [100, 200, 300], fontSize: 14, color: "#222", margin: 6 },
      },
      {
        type: "value", gridIndex: 1, min: -1458, max: 31250, splitLine: { show: false }, axisLine: noLine,
        axisTick: { ...tickStyle, customValues: [0, 10000, 20000, 30000] },
        axisLabel: { customValues: [0, 10000, 20000, 30000], formatter: (v: number) => v.toLocaleString("en-US"), fontSize: 11.5, color: "#222", margin: 4 },
      },
      {
        type: "value", gridIndex: 2, min: -2.26, max: 46.76, offset: 0.85, splitLine: { show: false }, axisLine,
        axisTick: { ...tickStyle, customValues: [0, 10, 20, 30, 40] }, axisLabel: { customValues: [0, 10, 20, 30, 40], fontSize: 12.5, color: "#222", margin: 3 },
      },
      {
        type: "value", gridIndex: 3, min: -94, max: 2031, splitLine: { show: false }, axisLine,
        axisTick: { ...tickStyle, customValues: [0, 500, 1000, 1500, 2000] },
        axisLabel: { customValues: [0, 500, 1000, 1500, 2000], formatter: (v: number) => String(v), fontSize: 13, color: "#222", margin: 5 },
      },
      plainCat(4, plateRows, { inverse: true, axisLine: noLine, axisTick: { show: false }, axisLabel: { fontSize: 14, color: "#222", margin: 5 } }),
      {
        type: "value", gridIndex: 5, min: 16.3, max: 177.2, splitLine: { show: false }, axisLine: noLine,
        axisTick: { ...tickStyle, customValues: [50, 100, 150] }, axisLabel: { customValues: [50, 100, 150], fontSize: 14, color: "#222", margin: 6 },
      },
      { type: "value", gridIndex: 6, min: -1, max: 1, show: false },
    ],
    series,
  };
}

export default function App() {
  const ref = useRef<HTMLDivElement>(null);
  useEffect(() => {
    const chart = echarts.init(ref.current as HTMLDivElement, undefined, { renderer: "svg" });
    chart.setOption(buildOption() as any);
    return () => chart.dispose();
  }, []);
  return <div ref={ref} style={{ position: "absolute", left: 0, top: 0, width: 1080, height: 1205, background: "#fff" }} />;
}
